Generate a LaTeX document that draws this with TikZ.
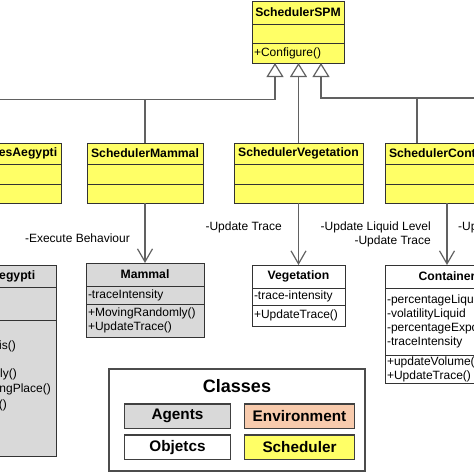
\documentclass[tikz,border=0pt]{standalone}
\usepackage{fontspec}
\setmainfont{Liberation Sans}
\usetikzlibrary{positioning,arrows.meta}

\definecolor{schedYellow}{RGB}{255,255,102}
\definecolor{agentGray}{RGB}{217,217,217}
\definecolor{envPeach}{RGB}{248,203,173}

\begin{document}
\begin{tikzpicture}[x=1pt,y=-1pt,node distance=0pt]
        \tikzstyle{class part}=[draw=black!80,line width=0.9pt,inner sep=0pt,outer sep=0pt]
        \tikzstyle{scheduler part}=[class part,fill=schedYellow]
        \tikzstyle{agent part}=[class part,fill=agentGray]
        \tikzstyle{object part}=[class part,fill=white]
        \tikzstyle{class title}=[font=\bfseries\fontsize{12.2}{14}\selectfont]
        \tikzstyle{members}=[font=\fontsize{12}{14}\selectfont,align=left,inner xsep=2pt]
        \tikzstyle{role}=[font=\fontsize{12}{14}\selectfont,align=right,inner sep=0pt]
        \tikzstyle{link}=[draw=black!62,line width=1.2pt]
        \tikzstyle{inherit}=[link,-{Triangle[open,length=14pt,width=17pt]}]
        \tikzstyle{navigate}=[link,-{Straight Barb[length=13pt,width=15pt]}]
        \tikzstyle{legend item}=[draw=black!75,line width=1.3pt,outer sep=0pt,minimum width=106pt,minimum height=24.5pt,font=\bfseries\fontsize{15.3}{18}\selectfont]

        \useasboundingbox (0,0) rectangle (474,474);
        \clip (0,0) rectangle (474,474);

        % Draw the top scheduler
        \node[scheduler part,class title,minimum width=92pt,minimum height=23pt] (S-SPM) at (298,12.5) {SchedulerSPM};
        \node[scheduler part,minimum width=92pt,minimum height=19pt,below=0pt of S-SPM] (S-SPM-attr) {};
        \node[scheduler part,members,text width=88pt,minimum height=20pt,below=0pt of S-SPM-attr] (S-SPM-ops) {+Configure()};

        % Draw the schedulers of every class
        \foreach \name / \x / \w / \schedname in {AedesAegypti/-13/148/SchedulerAedesAegypti,
                Mammal/145/116/SchedulerMammal, Vegetation/298.5/129/SchedulerVegetation,
                Container/447/124/SchedulerContainer}
        {
            \node[scheduler part,class title,minimum width=\w,minimum height=21pt] (S-\name) at (\x,153.5) {\schedname};
            \node[scheduler part,minimum width=\w,minimum height=20pt,below=0pt of S-\name] (S-\name-attr) {};
            \node[scheduler part,minimum width=\w,minimum height=19pt,below=0pt of S-\name-attr] (S-\name-ops) {};
        }

        % Draw the agents
        \node[agent part,class title,minimum width=123pt,minimum height=22pt] (AedesAegypti) at (-5.5,276) {AedesAegypti};
        \node[agent part,minimum width=123pt,minimum height=33pt,below=0pt of AedesAegypti] (AedesAegypti-attr) {};
        \node[agent part,minimum width=123pt,minimum height=136pt,below=0pt of AedesAegypti-attr] (AedesAegypti-ops) {};
        \node[role,anchor=east] (A-op-1) at (16,346) {+Metamorphosis()};
        \node[role,anchor=east] (A-op-2) at (17,374) {+MovingRandomly()};
        \node[role,anchor=east] (A-op-3) at (51,389.5) {+SearchingPlace()};
        \node[role,anchor=east] (A-op-4) at (7,405) {+UpdateTrace()};

        \node[agent part,class title,minimum width=118pt,minimum height=23pt,below=60pt of S-Mammal-ops] (Mammal) {Mammal};
        \node[agent part,members,text width=114pt,minimum height=18pt,below=0pt of Mammal] (Mammal-attr) {-traceIntensity};
        \node[agent part,members,text width=114pt,minimum height=33pt,below=0pt of Mammal-attr] (Mammal-ops) {+MovingRandomly()\\+UpdateTrace()};

        % Draw the objects
        \node[object part,class title,minimum width=93pt,minimum height=23pt,below=62pt of S-Vegetation-ops] (Vegetation) {Vegetation};
        \node[object part,members,text width=89pt,minimum height=17pt,below=0pt of Vegetation] (Vegetation-attr) {-trace-intensity};
        \node[object part,members,text width=89pt,minimum height=21pt,below=0pt of Vegetation-attr] (Vegetation-ops) {+UpdateTrace()};

        \node[object part,class title,minimum width=124pt,minimum height=23pt,below=62pt of S-Container-ops] (Container) {Container};
        \node[object part,members,text width=120pt,minimum height=67pt,below=0pt of Container] (Container-attr)
            {-percentageLiquid\\-volatilityLiquid\\-percentageExposure\\-traceIntensity};
        \node[object part,members,text width=120pt,minimum height=28pt,below=0pt of Container-attr] (Container-ops)
            {+updateVolume()\\+UpdateTrace()};

        % Connect the schedulers to SchedulerSPM
        \coordinate (left bus) at (275,99.5);
        \coordinate (right bus) at (321,98);
        \coordinate (next scheduler) at (520,98);
        \draw[inherit] (S-AedesAegypti.north) |- (left bus) -- (left bus |- S-SPM-ops.south);
        \draw[link] (S-Mammal.north) -- (S-Mammal.north |- left bus);
        \draw[inherit] (S-Vegetation.north) -- (S-Vegetation.north |- S-SPM-ops.south);
        \draw[inherit] (next scheduler) -- (right bus) -- (right bus |- S-SPM-ops.south);
        \draw[link] ([xshift=-30pt]S-Container.north) -- ([xshift=-30pt]S-Container.north |- right bus);

        % Connect every scheduler with its class
        \draw[navigate] (S-Mammal-ops.south) -- (Mammal.north);
        \draw[navigate] (S-Vegetation-ops.south) -- (Vegetation.north);
        \draw[navigate] (S-Container-ops.south) -- (Container.north);

        % Annotate the links
        \node[role,anchor=east] (behaviour) at (130,238) {-Execute Behaviour};
        \node[role,anchor=east] (trace) at (282,227) {-Update Trace};
        \node[role,anchor=east] (liquid) at (431,234) {-Update Liquid Level\\-Update Trace};
        \node[role,anchor=west] (volume) at (458,227) {-Update Trace};

        % Draw the legend
        \node[draw=black!70,line width=1.4pt,minimum width=256pt,minimum height=102pt] (legend) at (237,420) {};
        \node[font=\bfseries\fontsize{18}{20}\selectfont] (legend title) at (237,386) {Classes};
        \node[legend item,fill=agentGray] (agents) at (177.5,416.25) {Agents};
        \node[legend item,fill=white,below=6.5pt of agents] (objects) {Objetcs};
        \node[legend item,fill=envPeach,minimum width=110pt,right=14pt of agents] (environment) {Environment};
        \node[legend item,fill=schedYellow,minimum width=110pt,below=6.5pt of environment] (scheduler) {Scheduler};
    \end{tikzpicture}
\end{document}
